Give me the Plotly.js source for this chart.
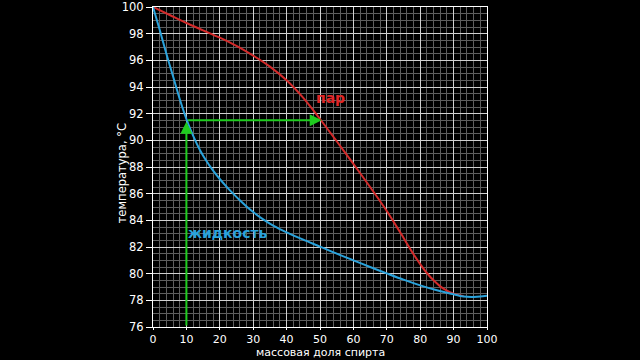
<!DOCTYPE html>
<html>
<head>
<meta charset="utf-8">
<script src="https://cdn.plot.ly/plotly-3.0.1.min.js"></script>
<style>
html,body{margin:0;padding:0;background:#000;}
#chart{width:640px;height:360px;}
</style>
</head>
<body>
<div id="chart"></div>
<script>
// Liquid (жидкость) curve
const liquidX = [0, 2, 4, 6, 8, 10, 12, 14, 16, 18, 20, 22, 24, 26, 28, 30, 33, 36, 40, 45, 50, 55, 60, 65, 70, 75, 80, 85, 88, 90, 92, 94, 96, 98, 100];
const liquidY = [100, 98.3, 96.5, 94.8, 93.1, 91.6, 90.35, 89.3, 88.45, 87.73, 87.1, 86.53, 86.0, 85.5, 85.04, 84.62, 84.07, 83.6, 83.1, 82.55, 82.03, 81.5, 81.0, 80.5, 80.02, 79.55, 79.12, 78.75, 78.57, 78.45, 78.33, 78.26, 78.25, 78.28, 78.35];
// Vapour (пар) curve
const vaporX = [0, 5, 10, 15, 20, 25, 30, 35, 40, 45, 50, 55, 60, 65, 70, 74, 78, 80, 82, 84, 86, 88, 90, 92, 93];
const vaporY = [100, 99.4, 98.8, 98.25, 97.7, 97.08, 96.35, 95.53, 94.5, 93.18, 91.6, 89.93, 88.23, 86.5, 84.7, 83.1, 81.46, 80.72, 80.05, 79.5, 79.05, 78.73, 78.5, 78.36, 78.3];
// Green construction arrows: start -> corner -> end
const arrowX = [10, 10, 50.5];
const arrowY = [76, 91.4, 91.5];
// Labels
const labelText = ['пар', 'жидкость'];
const labelX = [53, 22.5];
const labelY = [93.2, 83.05];
const xTitle = 'массовая доля спирта';
const yTitle = 'температура, °С';

const red = '#d42a2a';
const blue = '#2aa3dc';
const green = '#1fcc1f';
const font = 'DejaVu Sans';

const traces = [
  {x: vaporX, y: vaporY, type: 'scatter', mode: 'lines', line: {color: red, width: 2, shape: 'spline', smoothing: 0.8}, hoverinfo: 'skip'},
  {x: liquidX, y: liquidY, type: 'scatter', mode: 'lines', line: {color: blue, width: 2, shape: 'spline', smoothing: 0.8}, hoverinfo: 'skip'}
];

const annotations = [
  {x: arrowX[1], y: arrowY[1], ax: arrowX[0], ay: arrowY[0], axref: 'x', ayref: 'y', xref: 'x', yref: 'y',
   showarrow: true, arrowhead: 2, arrowsize: 1.2, arrowwidth: 2, arrowcolor: green, text: ''},
  {x: arrowX[2], y: arrowY[2], ax: arrowX[1], ay: arrowY[2], axref: 'x', ayref: 'y', xref: 'x', yref: 'y',
   showarrow: true, arrowhead: 2, arrowsize: 1.2, arrowwidth: 2, arrowcolor: green, text: ''},
  {x: labelX[0], y: labelY[0], xref: 'x', yref: 'y', text: '<b>' + labelText[0] + '</b>', showarrow: false,
   font: {family: font, size: 14, color: '#e02626'}},
  {x: labelX[1], y: labelY[1], xref: 'x', yref: 'y', text: '<b>' + labelText[1] + '</b>', showarrow: false,
   font: {family: font, size: 14, color: blue}},
  // axis titles
  {x: 0.5, y: -0.1045, xref: 'paper', yref: 'paper', text: xTitle, showarrow: false, borderpad: 0,
   xanchor: 'center', yanchor: 'bottom', font: {family: font, size: 11, color: '#ffffff'}},
  {x: -0.093, y: 0.48, xref: 'paper', yref: 'paper', text: yTitle, showarrow: false, textangle: -90,
   xanchor: 'center', yanchor: 'middle', font: {family: font, size: 11.5, color: '#ffffff'}}
];

const axisCommon = {
  showline: true, linecolor: '#ffffff', linewidth: 1, mirror: true,
  ticks: 'outside', ticklen: 5, tickcolor: '#ffffff', tickwidth: 1,
  gridcolor: '#d0d0d0', gridwidth: 1, zeroline: false,
  tickfont: {family: font, size: 11.5, color: '#ffffff'},
  ticklabeloverflow: 'allow',
  fixedrange: true
};

const layout = {
  width: 640, height: 360,
  paper_bgcolor: '#000000', plot_bgcolor: '#000000',
  margin: {l: 153, r: 153, t: 7, b: 33},
  showlegend: false,
  xaxis: Object.assign({}, axisCommon, {
    range: [0, 100], dtick: 10, tick0: 0, ticklen: 2,
    tickfont: {family: font, size: 11, color: '#ffffff'},
    minor: {dtick: 2, showgrid: true, gridcolor: '#5e5e5e', gridwidth: 1, ticks: ''}
  }),
  yaxis: Object.assign({}, axisCommon, {
    range: [76, 100], dtick: 2, tick0: 76, ticklen: 6,
    minor: {dtick: 0.5, showgrid: true, gridcolor: '#5e5e5e', gridwidth: 1, ticks: ''}
  }),
  annotations: annotations
};

Plotly.newPlot('chart', traces, layout, {displayModeBar: false, staticPlot: true});
</script>
</body>
</html>
